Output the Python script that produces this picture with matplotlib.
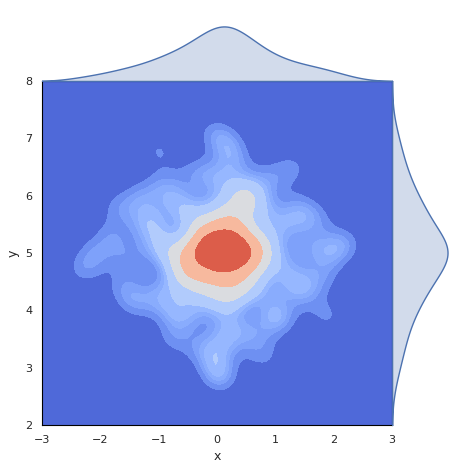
import matplotlib
matplotlib.use("Agg")
import matplotlib.pyplot as plt
import seaborn as sns
import pandas as pd

# hand-read approximate sample locations (x, y)
x = [0.1, 0.15, 0.0, -0.2, 0.3, 0.2, -0.4, 0.5, -0.6, 0.7, 0.05, -0.1, 0.25, 0.4, -0.3,
     -0.8, 0.9, -1.0, 1.1, -1.2, 1.3, 0.6, -0.5, 0.0, 0.2, -0.7, 0.8, -1.5, 1.6, -0.2,
     0.3, 0.1, -0.9, 1.0, -1.4, 1.4, -0.1, 0.5, -0.4, 0.7, 0.0, -1.8, 1.8, -0.6, 0.4,
     -1.1, 1.2, 0.15, -0.35, 0.6, -2.1, 2.0, -0.25, 0.9, -0.8, 1.5, -1.3, 0.2, 0.0, -0.5,
     0.35, -1.6, 0.1, 1.7, -0.05, 0.45, -0.75, 1.05, -2.3, 2.2, 0.55, -0.15, -1.0, 0.8,
     0.25, -0.45, 1.3, -1.7, 0.05, 0.65, -0.95, 0.3, -0.3, 1.9]
y = [5.0, 5.1, 4.9, 5.2, 5.0, 4.8, 5.1, 5.3, 4.7, 4.9, 5.4, 4.6, 5.6, 4.4, 5.5,
     5.0, 5.2, 4.3, 4.8, 5.6, 4.5, 6.0, 3.9, 6.3, 3.7, 5.9, 5.7, 4.9, 5.1, 4.2,
     6.6, 3.4, 6.2, 4.0, 4.1, 5.8, 5.3, 4.7, 5.0, 4.4, 5.8, 5.3, 4.6, 4.5, 6.1,
     5.4, 5.5, 4.1, 6.4, 3.6, 5.0, 5.0, 3.3, 6.3, 4.0, 4.3, 6.0, 6.9, 3.0, 5.7,
     5.2, 4.4, 4.6, 5.6, 7.1, 5.9, 3.5, 3.8, 4.7, 5.2, 4.9, 5.0, 6.8, 3.2,
     4.3, 4.8, 6.5, 5.8, 2.8, 5.1, 5.1, 5.5, 4.5, 3.9]

sns.set_style("white")
plt.rcParams.update({"font.size": 8, "xtick.labelsize": 8, "ytick.labelsize": 8,
                     "axes.labelsize": 9})
df = pd.DataFrame({"x": x, "y": y})
g = sns.JointGrid(data=df, x="x", y="y", height=4.74, ratio=6, space=0,
                  xlim=(-3, 3), ylim=(2, 8))
g.plot_joint(sns.kdeplot, fill=True, cmap="coolwarm", thresh=0, levels=10,
             bw_adjust=0.55, gridsize=200, cut=12)
sns.kdeplot(x=x, ax=g.ax_marg_x, fill=True, color="#4c72b0", bw_adjust=0.9)
sns.kdeplot(y=y, ax=g.ax_marg_y, fill=True, color="#4c72b0", bw_adjust=0.9)
g.ax_joint.set_xlim(-3, 3); g.ax_joint.set_ylim(2, 8)
for s in g.ax_joint.spines.values():
    s.set_visible(True); s.set_color("black")
g.ax_marg_x.set_axis_off(); g.ax_marg_y.set_axis_off()
g.figure.subplots_adjust(left=0.089, right=0.95, bottom=0.103, top=0.95)
g.figure.savefig("out.png", dpi=100)
